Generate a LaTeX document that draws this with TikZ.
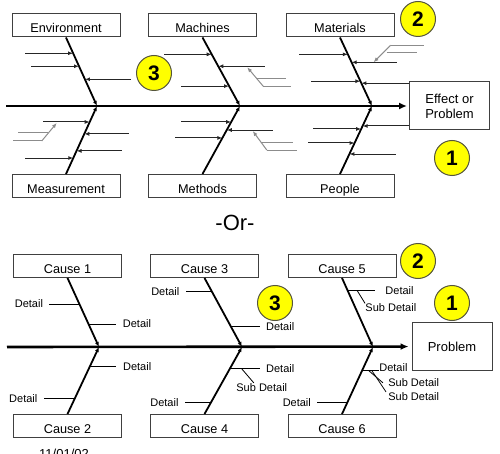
\documentclass[tikz,border=0pt]{standalone}
\usepackage{fontspec}
\setmainfont{Liberation Sans}
\usetikzlibrary{calc,arrows.meta}
\definecolor{sun}{RGB}{255,255,0}
\definecolor{rim}{RGB}{85,85,60}

\begin{document}
\begin{tikzpicture}[x=1pt,y=-1pt,>={Latex[length=5pt,width=4pt]},
	cause/.style={draw=black!75,line width=1pt,minimum width=108pt,minimum height=23pt,inner sep=0pt,text height=15pt,text depth=0pt,font=\fontsize{12.7}{15}\selectfont},
	effect/.style={draw=black!75,line width=1pt,minimum width=80pt,minimum height=48pt,inner sep=0pt,align=center,font=\fontsize{13}{15}\selectfont},
	badge/.style={circle,draw=rim,line width=1pt,fill=sun,minimum size=35pt,inner sep=0pt,font=\bfseries\fontsize{21}{21}\selectfont},
	spine/.style={line width=2.6pt,->,>={Latex[length=8pt,width=7pt]},shorten >=2pt},
	bone/.style={line width=1.8pt,->},
	det/.style={line width=1pt,black!85},
	subline/.style={line width=1pt,black!45},
	twig/.style={line width=0.8pt},
	note/.style={inner sep=0pt,font=\fontsize{11}{13}\selectfont}]
	\useasboundingbox (0,0) rectangle (500,454);

	% first chart
	\node[cause]	(env)	at (66,25.5)	{Environment};
	\node[cause]	(mach)	at (202.5,25.5)	{Machines};
	\node[cause]	(matl)	at (340,25.5)	{Materials};
	\node[cause]	(meas)	at (66,186)	{Measurement};
	\node[cause]	(meth)	at (202.5,186)	{Methods};
	\node[cause]	(ppl)	at (340,186)	{People};
	\node[effect]	(eff)	at (449.5,106)	{Effect or\\Problem};
	\coordinate (tail) at (6,106);
	\coordinate (j1) at (97,106);
	\coordinate (j2) at (240,106);
	\coordinate (j3) at (372,106);
	\draw[spine] (tail) -- (eff);
	\draw[bone] (env.south) -- (j1);
	\draw[bone] (meas.north) -- (j1);
	\draw[bone] (mach.south) -- (j2);
	\draw[bone] (meth.north) -- (j2);
	\draw[bone] (matl.south) -- (j3);
	\draw[bone] (ppl.north) -- (j3);

	\draw[det,<-] ($(env.south)!.23!(j1)$)	-- +(-48,0);
	\draw[det,<-] ($(env.south)!.42!(j1)$)	-- +(-48,0);
	\draw[det,<-] ($(env.south)!.61!(j1)$)	-- +(46,0);
	\draw[det,<-] ($(meas.north)!.765!(j1)$)	-- +(-47,0) coordinate (s1);
	\draw[det,<-] ($(meas.north)!.59!(j1)$)	-- +(45,0);
	\draw[det,<-] ($(meas.north)!.34!(j1)$)	-- +(45,0);
	\draw[det,<-] ($(meas.north)!.235!(j1)$)	-- +(-48,0);
	\draw[subline,->] ($(s1)+(-1,19)$) coordinate (t1) -- +(15,-18);
	\draw[subline] (t1) -- +(-29,0) ($(t1)+(6,-8)$) -- +(-30,0);

	\draw[det,<-] ($(mach.south)!.246!(j2)$)	-- +(-48,0);
	\draw[det,<-] ($(mach.south)!.42!(j2)$)	-- +(47,0) coordinate (s2);
	\draw[det,<-] ($(mach.south)!.71!(j2)$)	-- +(-48,0);
	\draw[subline,->] ($(s2)+(-2,20)$) coordinate (t2) -- +(-16,-19);
	\draw[subline] (t2) -- +(28,0) ($(t2)+(-7,-8)$) -- +(30,0);

	\draw[det,<-] ($(meth.north)!.765!(j2)$)	-- +(-50,0);
	\draw[det,<-] ($(meth.north)!.647!(j2)$)	-- +(46,0) coordinate (s3);
	\draw[det,<-] ($(meth.north)!.53!(j2)$)	-- +(-47,0);
	\draw[subline,->] ($(s3)+(-6,20)$) coordinate (t3) -- +(-14,-19);
	\draw[subline] (t3) -- +(30,0) ($(t3)+(-6,-8)$) -- +(32,0);

	\draw[det,<-] ($(matl.south)!.246!(j3)$)	-- +(-49,0);
	\draw[det,<-] ($(matl.south)!.362!(j3)$)	-- +(45,0) coordinate (s4);
	\draw[det,<-] ($(matl.south)!.638!(j3)$)	-- +(-49,0);
	\draw[det,<-] ($(matl.south)!.667!(j3)$)	-- +(48,0);
	\draw[subline,->] ($(s4)+(-6,-17)$) coordinate (t4) -- +(-17,17);
	\draw[subline] (t4) -- +(33,0) ($(t4)+(-4,7)$) -- +(30,0);

	\draw[det,<-] ($(ppl.north)!.706!(j3)$)	-- +(46,0);
	\draw[det,<-] ($(ppl.north)!.662!(j3)$)	-- +(-48,0);
	\draw[det,<-] ($(ppl.north)!.456!(j3)$)	-- +(-47,0);
	\draw[det,<-] ($(ppl.north)!.294!(j3)$)	-- +(47,0);

	\node[badge] (b2) at (418,19)	{2};
	\node[badge] (b3) at (154,73)	{3};
	\node[badge] (b1) at (452,158)	{1};

	\node[font=\fontsize{22}{22}\selectfont] (or) at (235,223) {-Or-};

	% second chart
	\node[cause]	(c1)	at (67.5,266)	{Cause 1};
	\node[cause]	(c3)	at (204.5,266)	{Cause 3};
	\node[cause]	(c5)	at (342,266)	{Cause 5};
	\node[cause]	(c2)	at (67.5,426)	{Cause 2};
	\node[cause]	(c4)	at (204.5,426)	{Cause 4};
	\node[cause]	(c6)	at (342,426)	{Cause 6};
	\node[effect]	(prob)	at (452,346.5)	{Problem};
	\coordinate (tail2) at (7,347);
	\coordinate (j4) at (99,347);
	\coordinate (j5) at (242,347);
	\coordinate (j6) at (373,347);
	\draw[spine,shorten >=3pt] (tail2) -- (prob);
	\draw[bone] (c1.south) -- (j4);
	\draw[bone] (c2.north) -- (j4);
	\draw[bone] (c3.south) -- (j5);
	\draw[bone] (c4.north) -- (j5);
	\draw[bone] (c5.south) -- (j6);
	\draw[bone] (c6.north) -- (j6);

	\draw[twig] ($(c1.south)!.377!(j4)$)	-- +(-30,0) node[note,left=6pt]	{Detail};
	\draw[twig] ($(c1.south)!.667!(j4)$)	-- +(27,0) node[note,right=7pt]	{Detail};
	\draw[twig] ($(c2.north)!.704!(j4)$)	-- +(26,0) node[note,right=7pt]	{Detail};
	\draw[twig] ($(c2.north)!.23!(j4)$)	-- +(-31,0) node[note,left=6pt]	{Detail};

	\draw[twig] ($(c3.south)!.194!(j5)$)	-- +(-26,0) node[note,left=6pt]	{Detail};
	\draw[twig] ($(c3.south)!.698!(j5)$)	-- +(29,0) node[note,right=6pt]	{Detail};
	\draw[twig] ($(c4.north)!.674!(j5)$)	-- +(30,0) coordinate (d4) node[note,right=6pt] {Detail};
	\draw[twig] ($(d4)+(-18,0)$) -- +(12,14) node[note,anchor=north,xshift=8pt] {Sub Detail};
	\draw[twig] ($(c4.north)!.17!(j5)$)	-- +(-26,0) node[note,left=6pt]	{Detail};

	\draw[twig] ($(c5.south)!.18!(j6)$)	-- +(27.5,0) coordinate (d5) node[note,right=10pt] {Detail};
	\draw[twig] ($(d5)+(-18,0)$) -- +(8,13) node[note,anchor=north west] {Sub Detail};
	\draw[twig] ($(c6.north)!.644!(j6)$)	-- +(17,0) coordinate (d6) node[note,right,yshift=3pt] {Detail};
	\draw[twig] ($(d6)+(-10,0)$) -- +(14,12) node[note,anchor=west,xshift=5pt] {Sub Detail};
	\draw[twig] ($(d6)+(-7,0)$) -- +(14,21) node[note,anchor=north west,xshift=2pt] {Sub Detail};
	\draw[twig] ($(c6.north)!.17!(j6)$)	-- +(-30,0) node[note,left=6pt]	{Detail};

	\node[badge] (b5) at (418,261)	{2};
	\node[badge] (b6) at (275,303)	{3};
	\node[badge] (b4) at (452,303)	{1};

	\node[font=\fontsize{13}{13}\selectfont,anchor=north west,inner sep=0pt] (date) at (39,449) {11/01/02};
\end{tikzpicture}
\end{document}
